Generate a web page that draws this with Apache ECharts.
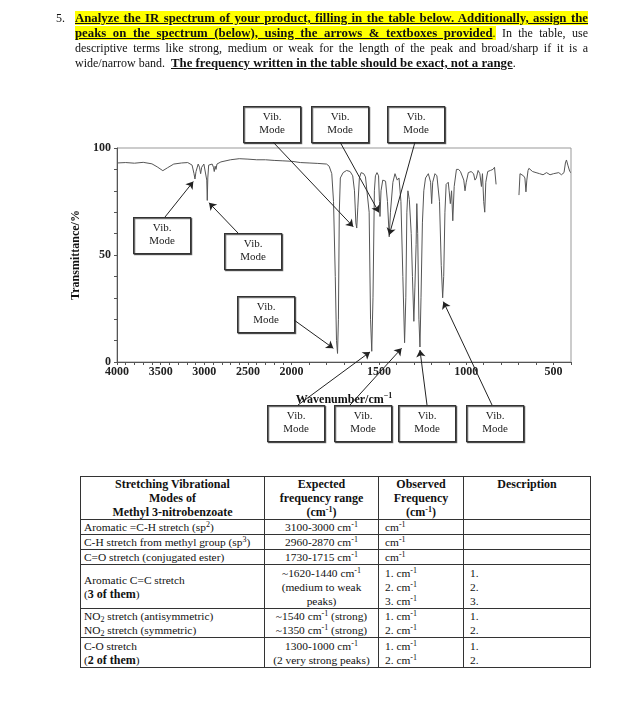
<!DOCTYPE html>
<html>
<head>
<meta charset="utf-8">
<script src="https://cdn.jsdelivr.net/npm/echarts@6/dist/echarts.min.js"></script>
<style>
  body { margin: 0; background: #fff; font-family: 'Liberation Serif', 'Times New Roman', serif; color: #111; }
  #chart { position: absolute; left: 0; top: 0; width: 641px; height: 460px; }
  #intro { position: absolute; left: 0; top: 0; width: 641px; height: 80px; font-size: 12px; z-index: 2; }
  #intro b { font-size: 12.8px; }
  .num { position: absolute; left: 56px; top: 11px; line-height: 14px; }
  .ln { position: absolute; left: 75px; width: 513px; white-space: nowrap; line-height: 14px;
        text-align: justify; text-align-last: justify; }
  .ln.last { text-align-last: left; }
  .hl { background: #ffff00; }
  #tbl { position: absolute; left: 80px; top: 476px; z-index: 2; }
  table { border-collapse: collapse; table-layout: fixed; font-size: 11.4px; line-height: 14px; }
  table b { font-size: 12px; }
  td { border: 1.5px solid #333; padding: 0 3px; vertical-align: middle; white-space: nowrap; overflow: hidden; }
  td.c { text-align: center; }
  td.o { padding-left: 6px; }
  td.top { vertical-align: top; text-align: center; }
  .sup { font-size: 8px; vertical-align: 4px; line-height: 0; }
  .sub { font-size: 8px; vertical-align: -2px; line-height: 0; }
</style>
</head>
<body>
<div id="chart"></div>

<div id="intro">
  <div class="num">5.</div>
  <div class="ln" style="top:11px"><span class="hl"><b><u>Analyze the IR spectrum of your product, filling in the table below. Additionally, assign the</u></b></span></div>
  <div class="ln" style="top:26px"><span class="hl"><b><u>peaks on the spectrum (below), using the arrows &amp; textboxes provided</u></b>.</span> In the table, use</div>
  <div class="ln" style="top:41px">descriptive terms like strong, medium or weak for the length of the peak and broad/sharp if it is a</div>
  <div class="ln last" style="top:56px">wide/narrow band.&nbsp; <b><u>The frequency written in the table should be exact, not a range</u></b>.</div>
</div>

<div id="tbl">
<table>
  <colgroup><col style="width:184px"><col style="width:114px"><col style="width:85px"><col style="width:127px"></colgroup>
  <tr style="height:43px">
    <td class="c"><b>Stretching Vibrational<br>Modes of<br>Methyl 3-nitrobenzoate</b></td>
    <td class="c"><b>Expected<br>frequency range<br>(cm<span class="sup">-1</span>)</b></td>
    <td class="c"><b>Observed<br>Frequency<br>(cm<span class="sup">-1</span>)</b></td>
    <td class="top"><b>Description</b></td>
  </tr>
  <tr style="height:15px">
    <td>Aromatic =C-H stretch (sp<span class="sup">2</span>)</td>
    <td class="c">3100-3000 cm<span class="sup">-1</span></td>
    <td class="o">cm<span class="sup">-1</span></td>
    <td></td>
  </tr>
  <tr style="height:15px">
    <td>C-H stretch from methyl group (sp<span class="sup">3</span>)</td>
    <td class="c">2960-2870 cm<span class="sup">-1</span></td>
    <td class="o">cm<span class="sup">-1</span></td>
    <td></td>
  </tr>
  <tr style="height:15px">
    <td>C=O stretch (conjugated ester)</td>
    <td class="c">1730-1715 cm<span class="sup">-1</span></td>
    <td class="o">cm<span class="sup">-1</span></td>
    <td></td>
  </tr>
  <tr style="height:44px">
    <td>Aromatic C=C stretch<br>(<b>3 of them</b>)</td>
    <td class="c">~1620-1440 cm<span class="sup">-1</span><br>(medium to weak<br>peaks)</td>
    <td class="o">1. cm<span class="sup">-1</span><br>2. cm<span class="sup">-1</span><br>3. cm<span class="sup">-1</span></td>
    <td class="o">1.<br>2.<br>3.</td>
  </tr>
  <tr style="height:29px">
    <td>NO<span class="sub">2</span> stretch (antisymmetric)<br>NO<span class="sub">2</span> stretch (symmetric)</td>
    <td class="c">~1540 cm<span class="sup">-1</span> (strong)<br>~1350 cm<span class="sup">-1</span> (strong)</td>
    <td class="o">1. cm<span class="sup">-1</span><br>2. cm<span class="sup">-1</span></td>
    <td class="o">1.<br>2.</td>
  </tr>
  <tr style="height:30px">
    <td>C-O stretch<br>(<b>2 of them</b>)</td>
    <td class="c">1300-1000 cm<span class="sup">-1</span><br>(2 very strong peaks)</td>
    <td class="o">1. cm<span class="sup">-1</span><br>2. cm<span class="sup">-1</span></td>
    <td class="o">1.<br>2.</td>
  </tr>
</table>
</div>

<script type="text/javascript">
// spectrum (cm-1, %T); null = gap in the trace
var waveNumbers = [
  4000, 3900, 3800, 3700, 3600, 3540, 3475, 3420, 3350, 3260, 3190, 3140, 3118, 3107, 3095, 3070,
  3055, 3042, 3030, 3005, 2985, 2972, 2966, 2960, 2950, 2910, 2895, 2886, 2876, 2866, 2855, 2810,
  2700, 2600, 2500, 2400, 2300, 2200, 2100, 2000, 1950, 1900, 1850, 1800, 1785, 1770, 1760, 1750,
  1743, 1737, 1732, 1727, 1721, 1705, 1685, 1665, 1650, 1640, 1632, 1627, 1621, 1612, 1602, 1587,
  1577, 1567, 1556, 1548, 1541, 1534, 1526, 1520, 1511, 1502, 1497, 1494, 1488, 1478, 1462, 1451,
  1441, 1434, 1420, 1408, 1395, 1385, 1374, 1363, 1353, 1346, 1340, 1334, 1326, 1315, 1308, 1300,
  1294, 1287, 1283, 1278, 1271, 1265, 1259, 1251, 1243, 1233, 1217, 1204, 1198, 1192, 1179, 1168,
  1153, 1143, 1135, 1129, 1122, 1115, 1103, 1098, 1091, 1084, 1077, 1069, 1056, 1044, 1033, 1014,
  1007, 1000, 988, 972, 958, 950, 942, 932, 922, 913, 907, 900, 894, 888, 877, 862,
  847, 838, 831, 829, 760, 698, 692, 682, 672, 664, 658, 653, 646, 641, 620, 600,
  580, 560, 540, 520, 500, 470, 455, 440, 432, 426, 418, 407, 400
];
var transmittance = [
  93, 93.2, 92.9, 93.3, 92.6, 91.2, 89.4, 90.8, 92.5, 93, 93.2, 92, 88, 85.5, 89, 92.5,
  91, 88, 91, 92.5, 92, 85, 75.5, 86, 92, 92.5, 91, 89, 91.5, 90, 92.5, 93.5,
  94.5, 95, 94.8, 94.5, 94.5, 94.2, 94, 93.8, 93.2, 93, 92.8, 92.5, 91.5, 88, 75, 40,
  10, 4, 20, 70, 86, 88.5, 89.5, 89, 87, 80, 65, 62.6, 72, 86, 88.5, 88,
  86.5, 87, 70, 20, 5, 30, 80, 87, 88.5, 87, 75, 68, 80, 85, 84.5, 75,
  58.5, 70, 84, 88, 85, 86, 75, 40, 9, 30, 70, 80, 76, 60, 40, 19,
  35, 55, 74, 60, 20, 7, 30, 65, 80, 86, 88, 84, 74, 84, 88, 87,
  75, 45, 30, 40, 70, 83, 84, 80, 74, 80, 66, 82, 90, 90, 89, 85,
  80, 84, 88.5, 89, 88, 85, 86, 89.5, 88, 82, 88, 75, 70, 84, 89, 89.5,
  90, 91, 91.5, 83, null, 78, 88, 88, 87, 86, 79.5, 85, 89.5, 90.5, 89, 88.5,
  88, 87.5, 88.5, 87.5, 88, 88.5, 87.5, 88.5, 93, 94.4, 92, 89, 88.5
];
var xTickLabels = [4000, 3500, 3000, 2500, 2000, 1500, 1000, 500];
var yTickLabels = [0, 50, 100];
// peaks the arrows point at (cm-1, %T)
var peakTargets = [
  [1647, 63.2], [1500, 69.9], [1441, 59.3],
  [3126, 84.3], [2946, 74.4], [1761, 6.4],
  [1551, 4.7], [1370, 6.4], [1265, 5.6], [1131, 28.2]
];
// textbox layout: left, top, arrow start x, arrow start y (px)
var boxLayout = [
  [243, 106, 273, 142], [311, 106, 340, 142], [387, 106, 415, 142],
  [133, 217, 165, 217], [224, 233, 238, 233], [237, 296, 294, 320],
  [267, 405, 298, 405], [334, 405, 350, 405], [398, 405, 427, 405], [466, 405, 492, 405]
];

// wavenumber axis is stretched 2x below 2000 cm-1
function toAxis(w) { return w >= 2000 ? 4000 - w : 2000 + 2 * (2000 - w); }
function fromAxis(t) { return t <= 2000 ? 4000 - t : 2000 - (t - 2000) / 2; }

var minorTicks = [];
for (var w = 4000; w >= 400; w -= 100) minorTicks.push(toAxis(w));

var spectrum = waveNumbers.map(function (w, i) {
  return [toAxis(w), transmittance[i] === null ? '-' : transmittance[i]];
});

var font = 'Liberation Serif';
var boxW = 57, boxH = 36;
var graphics = boxLayout.map(function (b) {
  return {
    type: 'group', left: b[0], top: b[1],
    children: [
      { type: 'rect', shape: { x: 0, y: 0, width: boxW, height: boxH },
        style: { fill: '#fff', stroke: '#333', lineWidth: 1.3, shadowColor: 'rgba(0,0,0,0.5)', shadowOffsetX: 1, shadowOffsetY: 1 } },
      { type: 'text', x: boxW / 2, y: 4,
        style: { text: 'Vib.\nMode', fill: '#222', font: '11px ' + font, align: 'center', verticalAlign: 'top', lineHeight: 13 } }
    ]
  };
});

var arrows = peakTargets.map(function (p, i) {
  return [{ x: boxLayout[i][2], y: boxLayout[i][3] }, { coord: [toAxis(p[0]), p[1]] }];
});

var dom = document.getElementById('chart');
var myChart = echarts.init(dom);
var option = {
  animation: false,
  grid: { left: 117, top: 148, width: 454, height: 214, show: true, borderColor: '#999', borderWidth: 1 },
  xAxis: {
    type: 'value', min: 0, max: 5200,
    name: 'Wavenumber/cm{sup|\u22121}', nameLocation: 'middle', nameGap: 30,
    nameTextStyle: { fontFamily: font, fontWeight: 'bold', fontSize: 12, color: '#111',
      rich: { sup: { fontFamily: font, fontWeight: 'bold', fontSize: 8, padding: [0, 0, 7, 0], color: '#111' } } },
    axisLine: { lineStyle: { color: '#555' } },
    axisTick: { customValues: minorTicks, length: 3, lineStyle: { color: '#555' } },
    axisLabel: {
      customValues: xTickLabels.map(toAxis), margin: 4,
      fontFamily: font, fontWeight: 'bold', fontSize: 12, color: '#222',
      formatter: function (v) { return Math.round(fromAxis(v)); }
    },
    splitLine: { show: false }
  },
  yAxis: {
    type: 'value', min: 0, max: 100, interval: 10,
    name: 'Transmittance/%', nameLocation: 'middle', nameGap: 35,
    nameTextStyle: { fontFamily: font, fontWeight: 'bold', fontSize: 12, color: '#111' },
    axisLine: { show: true, lineStyle: { color: '#555' } },
    axisTick: { show: true, length: 3, lineStyle: { color: '#555' } },
    axisLabel: {
      fontFamily: font, fontWeight: 'bold', fontSize: 12, color: '#222', margin: 6,
      formatter: function (v) { return yTickLabels.indexOf(v) >= 0 ? v : ''; }
    },
    splitLine: { show: false }
  },
  series: [{
    type: 'line', data: spectrum, symbol: 'none', clip: false, connectNulls: false,
    lineStyle: { color: '#555', width: 1 },
    markLine: {
      silent: true, animation: false,
      symbol: ['none', 'arrow'], symbolSize: 7,
      label: { show: false },
      lineStyle: { color: '#222', width: 1, type: 'solid' },
      data: arrows
    }
  }],
  graphic: graphics
};
myChart.setOption(option);
</script>
</body>
</html>
